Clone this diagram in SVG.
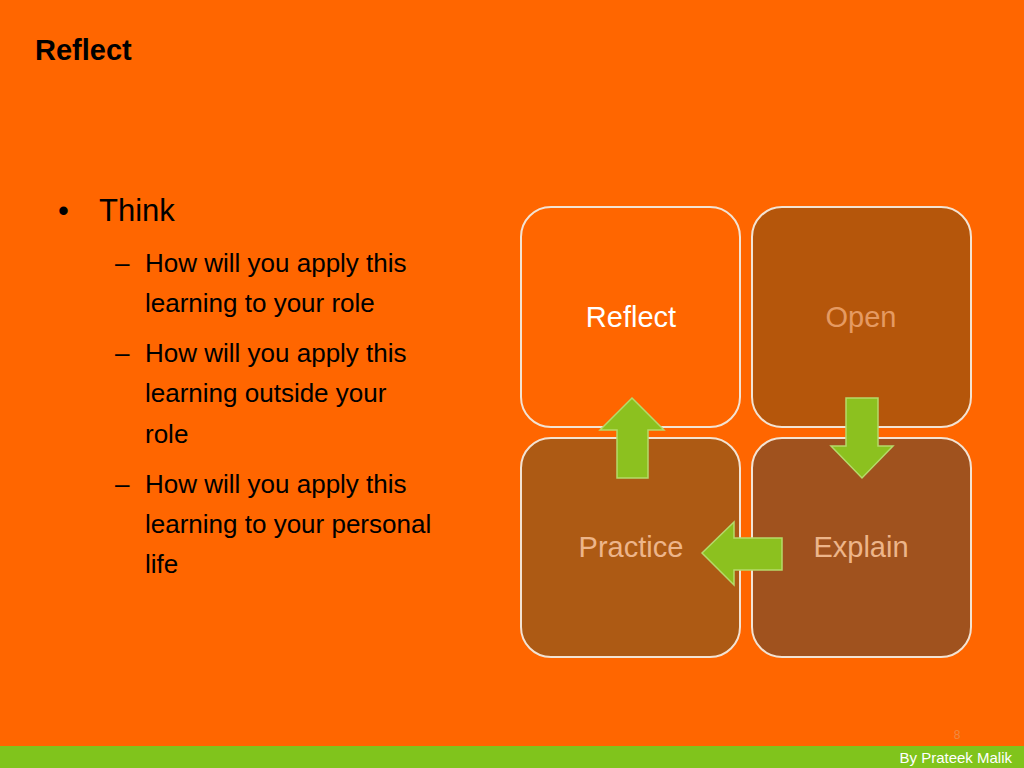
<svg xmlns="http://www.w3.org/2000/svg" width="1024" height="768" viewBox="0 0 1024 768">
<style>
.t{font-family:"Liberation Sans","Open Sans",sans-serif;fill:#000}
.box{stroke:#F3E3D3;stroke-width:2}
.lbl{font-family:"Liberation Sans","Open Sans",sans-serif;font-size:29px;text-anchor:middle}
.arr{fill:#8CC11F;stroke:#B5DA6A;stroke-width:1.5}
</style>
<rect width="1024" height="768" fill="#FF6600"/>
<rect y="746" width="1024" height="22" fill="#80C41C"/>
<text x="1012" y="763" class="t" style="font-size:15px;fill:#fff" text-anchor="end">By Prateek Malik</text>
<text x="957" y="739" class="t" style="font-size:12px;fill:#F08A40" text-anchor="middle">8</text>
<text x="35" y="60" class="t" style="font-size:29px;font-weight:bold">Reflect</text>
<g class="t" style="font-size:31px"><text x="58" y="221">•</text><text x="99" y="221">Think</text></g>
<g class="t" style="font-size:26px">
<text x="115" y="272">–</text><text x="145" y="272">How will you apply this</text>
<text x="145" y="312">learning to your role</text>
<text x="115" y="362">–</text><text x="145" y="362">How will you apply this</text>
<text x="145" y="402">learning outside your</text>
<text x="145" y="443">role</text>
<text x="115" y="493">–</text><text x="145" y="493">How will you apply this</text>
<text x="145" y="533">learning to your personal</text>
<text x="145" y="573">life</text>
</g>
<g id="reflect"><rect class="box" x="521" y="207" width="219" height="220" rx="30" fill="#FF6600"/><text class="lbl" x="631" y="327" fill="#fff">Reflect</text></g>
<g id="open"><rect class="box" x="752" y="207" width="219" height="220" rx="30" fill="#B5560B"/><text class="lbl" x="861" y="327" fill="#E59A62">Open</text></g>
<g id="practice"><rect class="box" x="521" y="438" width="219" height="219" rx="30" fill="#AD5A14"/><text class="lbl" x="631" y="557" fill="#EDB58A">Practice</text></g>
<g id="explain"><rect class="box" x="752" y="438" width="219" height="219" rx="30" fill="#A0521E"/><text class="lbl" x="861" y="557" fill="#EDB58A">Explain</text></g>
<g id="connectors">
<polygon class="arr" points="632,398 664,430 648,430 648,478 617,478 617,430 600,430"/>
<polygon class="arr" points="846,398 878,398 878,446 893,446 862,478 831,446 846,446"/>
<polygon class="arr" points="702,553 734,522 734,538 782,538 782,570 734,570 734,585"/>
</g>
</svg>
